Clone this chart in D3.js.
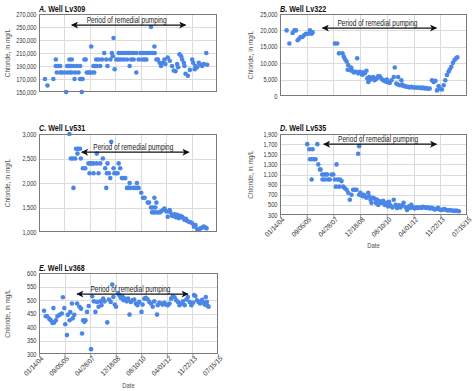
<!DOCTYPE html>
<html>
<head>
<meta charset="utf-8">
<script src="https://cdn.jsdelivr.net/npm/d3@7"></script>
<style>
  html, body { margin: 0; padding: 0; background: #fff; }
  svg { display: block; }
  text { font-family: "Liberation Sans Narrow", "Arial Narrow", "Liberation Sans", Arial, sans-serif; }
</style>
</head>
<body>
<svg id="chart" width="474" height="391"></svg>
<script>
// ---------------- DATA ----------------
const xTickLabels = ["01/14/04","09/05/05","04/28/07","12/18/08","08/10/10","04/01/12","11/22/13","07/15/15"];
const annotationText = "Period of remedial pumping";
const yLabel = "Chloride, in mg/L";
const xLabel = "Date";

// [decimal year, chloride mg/L]
const lv309 = [
[2004.42,170000],[2004.58,160000],[2004.96,170000],[2005.12,200000],[2005.12,190000],[2005.18,180000],[2005.25,190000],
[2005.40,190000],[2005.40,180000],[2005.50,180000],[2005.68,180000],[2005.79,150000],[2005.85,190000],[2005.87,180000],
[2005.94,190000],[2006.00,200000],[2006.04,190000],[2006.04,180000],[2006.10,190000],[2006.15,200000],[2006.15,180000],
[2006.26,190000],[2006.33,170000],[2006.37,180000],[2006.48,190000],[2006.59,180000],[2006.69,170000],[2006.69,190000],
[2006.75,170000],[2006.80,150000],[2006.85,170000],[2006.97,200000],[2007.05,200000],[2007.12,180000],[2007.23,180000],
[2007.30,180000],[2007.41,220000],[2007.45,180000],[2007.55,190000],[2007.60,180000],[2007.66,190000],[2007.73,200000],
[2007.77,190000],[2007.88,200000],[2007.99,190000],[2008.10,200000],[2008.25,210000],[2008.38,200000],[2008.46,190000],
[2008.64,200000],[2008.74,210000],[2008.80,205000],[2008.85,233000],[2008.92,185000],[2009.03,200000],[2009.18,210000],
[2009.18,200000],[2009.33,210000],[2009.33,200000],[2009.50,210000],[2009.50,200000],[2009.67,210000],[2009.72,200000],
[2009.82,210000],[2009.89,190000],[2009.99,210000],[2009.99,200000],[2010.15,210000],[2010.15,200000],[2010.32,210000],
[2010.32,180000],[2010.47,200000],[2010.58,210000],[2010.69,200000],[2010.75,210000],[2010.84,200000],[2010.90,210000],
[2010.97,200000],[2011.06,210000],[2011.19,210000],[2011.27,250000],[2011.36,210000],[2011.49,220000],[2011.51,210000],
[2011.62,200000],[2011.72,200000],[2011.83,195000],[2011.92,190000],[2012.05,195000],[2012.14,200000],[2012.20,193000],
[2012.35,203000],[2012.48,198000],[2012.63,190000],[2012.74,183000],[2012.85,182000],[2012.96,193000],[2013.02,188000],
[2013.11,208000],[2013.22,205000],[2013.28,200000],[2013.39,195000],[2013.43,190000],[2013.50,178000],[2013.65,175000],
[2013.78,184000],[2013.93,200000],[2013.99,195000],[2014.10,185000],[2014.14,190000],[2014.25,188000],[2014.36,195000],
[2014.47,192000],[2014.58,190000],[2014.68,193000],[2014.84,210000],[2014.90,192000]
];
const lv322 = [
[2004.44,20000],[2004.61,16000],[2004.81,19200],[2004.92,20000],[2005.02,20000],[2005.12,17000],[2005.22,17500],
[2005.30,18000],[2005.41,18000],[2005.51,18500],[2005.63,19000],[2005.77,19000],[2005.88,20000],[2005.98,19000],
[2006.04,19400],[2007.41,16000],[2007.55,16000],[2007.66,13000],[2007.88,13000],[2007.96,12000],[2008.04,11200],
[2008.13,10500],[2008.20,8000],[2008.23,9400],[2008.33,7900],[2008.41,8700],[2008.45,7800],[2008.49,7600],[2008.58,7200],
[2008.70,7400],[2008.78,11500],[2008.84,6900],[2008.94,7400],[2009.05,6700],[2009.10,6500],[2009.15,7200],[2009.25,6900],
[2009.35,7700],[2009.40,5400],[2009.46,4300],[2009.52,5800],[2009.60,5000],[2009.66,5300],[2009.76,5800],[2009.86,4800],
[2009.97,5300],[2010.00,5500],[2010.07,6000],[2010.17,6000],[2010.27,5300],[2010.38,4800],[2010.48,4600],[2010.58,4300],
[2010.60,5000],[2010.68,4300],[2010.78,4000],[2010.89,4800],[2011.03,5800],[2011.09,8700],[2011.19,3800],[2011.25,3600],
[2011.30,5800],[2011.40,3300],[2011.50,4800],[2011.55,3500],[2011.60,3100],[2011.70,3000],[2011.81,2800],[2011.91,2800],
[2012.01,2600],[2012.11,2800],[2012.22,2600],[2012.32,2600],[2012.42,2600],[2012.52,2500],[2012.62,2600],[2012.73,2400],
[2012.83,2600],[2012.93,2300],[2013.03,2400],[2013.14,2200],[2013.24,2300],[2013.38,4800],[2013.48,4300],[2013.59,4600],
[2013.69,1700],[2013.79,3000],[2013.89,2200],[2013.99,2000],[2014.10,3300],[2014.20,4800],[2014.30,6400],[2014.40,7400],
[2014.47,8100],[2014.57,8900],[2014.67,10100],[2014.77,11000],[2014.87,11500],[2014.94,11800]
];
const lv531 = [
[2006.00,3000],[2006.09,2500],[2006.22,2500],[2006.26,1900],[2006.37,2500],[2006.43,2700],[2006.52,2600],[2006.55,2700],
[2006.69,2700],[2006.74,2500],[2006.87,2300],[2007.02,2300],[2007.23,2400],[2007.30,2200],[2007.34,2400],[2007.45,2400],
[2007.56,2400],[2007.56,2200],[2007.77,2400],[2007.77,2600],[2007.88,2200],[2007.99,2400],[2008.16,2500],[2008.31,2300],
[2008.38,1900],[2008.46,2400],[2008.42,2200],[2008.55,2200],[2008.64,2100],[2008.70,2840],[2008.85,2300],[2008.90,2200],
[2009.03,2200],[2009.11,2200],[2009.18,2400],[2009.28,2300],[2009.39,2100],[2009.50,2100],[2009.61,2100],[2009.72,1900],
[2009.82,1900],[2009.89,2000],[2009.93,1900],[2010.15,1900],[2010.26,1900],[2010.36,2000],[2010.41,1900],[2010.47,1900],
[2010.64,1800],[2010.75,1700],[2010.86,1700],[2011.06,1600],[2011.14,1600],[2011.27,1500],[2011.34,1400],[2011.40,1500],
[2011.49,1700],[2011.49,1400],[2011.55,1500],[2011.62,1600],[2011.66,1400],[2011.83,1400],[2011.92,1420],[2012.05,1450],
[2012.14,1480],[2012.27,1420],[2012.35,1310],[2012.48,1450],[2012.52,1400],[2012.63,1330],[2012.70,1330],[2012.78,1360],
[2012.87,1300],[2012.96,1350],[2013.06,1280],[2013.17,1330],[2013.28,1310],[2013.35,1280],[2013.43,1250],[2013.52,1270],
[2013.60,1230],[2013.71,1210],[2013.82,1200],[2013.93,1180],[2014.04,1110],[2014.14,1140],[2014.25,1060],[2014.36,1040],
[2014.47,1075],[2014.58,1090],[2014.68,1110],[2014.79,1090],[2014.86,1075]
];
const lv535 = [
[2005.71,1700],[2005.84,1600],[2005.88,1400],[2005.98,1000],[2006.00,1400],[2006.04,1600],[2006.14,1400],[2006.22,1400],
[2006.33,1700],[2006.39,1300],[2006.49,1200],[2006.53,1200],[2006.63,1100],[2006.65,1000],[2006.74,1100],[2006.80,1000],
[2006.86,1100],[2006.94,1100],[2007.00,1000],[2007.10,1000],[2007.21,1100],[2007.31,1100],[2007.41,1000],[2007.47,860],
[2007.51,1300],[2007.57,1000],[2007.68,860],[2007.72,1000],[2007.82,970],[2007.92,860],[2008.02,830],[2008.13,800],
[2008.23,740],[2008.33,600],[2008.43,700],[2008.53,800],[2008.64,800],[2008.74,800],[2008.84,1510],[2008.90,1660],
[2008.90,700],[2008.98,740],[2009.11,670],[2009.19,700],[2009.25,670],[2009.35,640],[2009.46,740],[2009.52,670],
[2009.60,600],[2009.66,540],[2009.76,640],[2009.86,620],[2009.93,540],[2010.01,600],[2010.07,500],[2010.17,570],
[2010.27,540],[2010.38,580],[2010.48,500],[2010.58,540],[2010.68,470],[2010.74,560],[2010.83,490],[2010.95,450],
[2011.03,600],[2011.15,500],[2011.23,440],[2011.36,490],[2011.44,450],[2011.56,490],[2011.64,540],[2011.77,450],
[2011.85,400],[2011.97,470],[2012.05,440],[2012.11,500],[2012.22,450],[2012.32,430],[2012.42,450],[2012.52,440],
[2012.62,450],[2012.73,440],[2012.83,460],[2012.93,450],[2013.03,440],[2013.14,450],[2013.24,430],[2013.34,440],
[2013.44,430],[2013.55,410],[2013.65,420],[2013.75,440],[2013.85,410],[2013.95,400],[2014.05,410],[2014.15,420],
[2014.25,400],[2014.36,390],[2014.46,400],[2014.56,390],[2014.66,390],[2014.76,380],[2014.86,390],[2014.95,380],[2015.04,375]
];
const lv368 = [
[2004.36,460],[2004.47,440],[2004.55,440],[2004.70,430],[2004.79,425],[2004.90,415],[2004.96,470],[2005.01,417],
[2005.12,425],[2005.22,440],[2005.35,445],[2005.50,450],[2005.57,510],[2005.66,470],[2005.72,410],[2005.83,370],
[2005.89,445],[2006.00,425],[2006.04,455],[2006.15,487],[2006.20,432],[2006.30,445],[2006.48,487],[2006.63,475],
[2006.74,468],[2006.80,376],[2006.87,425],[2006.95,419],[2007.02,425],[2007.12,456],[2007.23,478],[2007.38,318],
[2007.45,514],[2007.56,495],[2007.66,456],[2007.77,493],[2007.86,475],[2007.99,495],[2008.05,481],[2008.16,505],
[2008.25,495],[2008.42,417],[2008.53,502],[2008.64,493],[2008.74,557],[2008.81,511],[2008.90,483],[2008.98,475],
[2009.11,526],[2009.20,518],[2009.28,508],[2009.39,514],[2009.46,499],[2009.54,505],[2009.67,495],[2009.76,505],
[2009.85,446],[2009.93,493],[2010.04,499],[2010.15,502],[2010.26,487],[2010.36,481],[2010.47,493],[2010.62,456],
[2010.69,483],[2010.80,505],[2010.90,508],[2011.01,503],[2011.12,493],[2011.23,487],[2011.34,475],[2011.44,495],
[2011.62,446],[2011.66,481],[2011.77,490],[2011.88,487],[2011.98,483],[2012.09,490],[2012.20,483],[2012.31,481],
[2012.42,487],[2012.52,505],[2012.63,514],[2012.74,510],[2012.85,499],[2012.96,493],[2013.06,481],[2013.17,487],
[2013.28,495],[2013.39,481],[2013.50,502],[2013.60,511],[2013.71,493],[2013.82,481],[2013.93,490],[2014.00,518],
[2014.08,515],[2014.18,499],[2014.28,493],[2014.38,487],[2014.45,495],[2014.52,501],[2014.60,490],[2014.68,483],
[2014.75,511],[2014.82,493],[2014.88,478],[2014.93,475]
];

const lv309Ticks = [150000,170000,190000,210000,230000,250000,270000];
const lv322Ticks = [0,5000,10000,15000,20000,25000];
const lv531Ticks = [1000,1500,2000,2500,3000];
const lv535Ticks = [300,500,700,900,1100,1300,1500,1700,1900];
const lv368Ticks = [300,350,400,450,500,550,600];

// pumping arrow: [start year, end year, y value]
const lv309Arrow = [2006.15, 2013.50, 253000];
const lv322Arrow = [2006.65, 2013.65, 20700];
const lv531Arrow = [2006.80, 2013.71, 2630];
const lv535Arrow = [2006.73, 2013.65, 1700];
const lv368Arrow = [2006.48, 2013.60, 522];

// ---------------- DRAWING ----------------
const parseTick = d3.utcParse("%m/%d/%y");
const xTickDates = xTickLabels.map(parseTick);
function yearToDate(y) {
  const Y = Math.floor(y), s = Date.UTC(Y, 0, 1), e = Date.UTC(Y + 1, 0, 1);
  return new Date(s + (y - Y) * (e - s));
}
const SX = 0.8; // horizontal condensing to mimic a narrow typeface

const svg = d3.select("#chart");
const defs = svg.append("defs");
defs.append("marker").attr("id","ah").attr("viewBox","0 0 10 10").attr("refX",9).attr("refY",5)
  .attr("markerWidth",8.5).attr("markerHeight",7).attr("markerUnits","userSpaceOnUse").attr("orient","auto-start-reverse")
  .append("path").attr("d","M0,0 L10,5 L0,10 L2.5,5 Z").attr("fill","#111");

const panels = [
  {letter:"A.", name:" Well Lv309", data:lv309, ticks:lv309Ticks, arrow:lv309Arrow, box:[39,14,217,92], titleY:11.5, ylx:7, dateAxis:false},
  {letter:"B.", name:" Well Lv322", data:lv322, ticks:lv322Ticks, arrow:lv322Arrow, box:[280,14,467,96], titleY:11.5, ylx:250, dateAxis:false},
  {letter:"C.", name:" Well Lv531", data:lv531, ticks:lv531Ticks, arrow:lv531Arrow, box:[39,134,217,232], titleY:131, ylx:7, dateAxis:false},
  {letter:"D.", name:" Well Lv535", data:lv535, ticks:lv535Ticks, arrow:lv535Arrow, box:[280,134,467,215], titleY:131, ylx:250, dateAxis:true, dateY:248},
  {letter:"E.", name:" Well Lv368", data:lv368, ticks:lv368Ticks, arrow:lv368Arrow, box:[39,273,218,354], titleY:270.5, ylx:7, dateAxis:true, dateY:387.5}
];

panels.forEach(p => {
  const [x0,y0,x1,y1] = p.box;
  const x = d3.scaleUtc().domain([xTickDates[0], xTickDates[xTickDates.length-1]]).range([x0,x1]);
  const y = d3.scaleLinear().domain(d3.extent(p.ticks)).range([y1,y0]);
  const g = svg.append("g");

  g.append("rect").attr("x",x0).attr("y",y0).attr("width",x1-x0).attr("height",y1-y0).attr("fill","#fff");

  // grid
  g.selectAll(".hg").data(p.ticks.slice(1,-1)).join("line")
    .attr("x1",x0).attr("x2",x1).attr("y1",d=>Math.round(y(d))+0.5).attr("y2",d=>Math.round(y(d))+0.5)
    .attr("stroke","#dcdcdc").attr("stroke-width",1);
  g.selectAll(".vg").data(xTickDates.slice(1,-1)).join("line")
    .attr("y1",y0).attr("y2",y1).attr("x1",d=>Math.round(x(d))+0.5).attr("x2",d=>Math.round(x(d))+0.5)
    .attr("stroke","#dcdcdc").attr("stroke-width",1);

  // y axis
  const ya = g.append("g").attr("transform",`translate(${x0},0)`)
    .call(d3.axisLeft(y).tickValues(p.ticks).tickSize(0).tickPadding(3).tickFormat(d3.format(",")));
  ya.select(".domain").remove();
  ya.selectAll("text").attr("font-size",6.5).attr("fill","#333").attr("font-family",null)
    .attr("transform",`scale(${SX*1.08},1)`);

  // y label
  g.append("text").attr("transform",`translate(${p.ylx},${(y0+y1)/2}) rotate(-90) scale(${SX},1)`)
    .attr("text-anchor","middle").attr("dy","0.35em").attr("font-size",8).attr("fill","#555").text(yLabel);

  // x axis with dates
  if (p.dateAxis) {
    const xa = g.append("g").attr("transform",`translate(0,${y1})`)
      .call(d3.axisBottom(x).tickValues(xTickDates).tickSize(3).tickFormat((d,i)=>xTickLabels[i]));
    xa.select(".domain").remove();
    xa.selectAll("line").attr("stroke","#999");
    xa.selectAll("text").attr("font-size",7).attr("fill","#333").attr("font-family",null)
      .attr("text-anchor","end").attr("x",0).attr("y",0).attr("dy",0)
      .attr("transform","translate(4.5,5) rotate(-45) scale(0.9,1)");
    g.append("text").attr("transform",`translate(${(x0+x1)/2},${p.dateY}) scale(${SX},1)`)
      .attr("text-anchor","middle").attr("font-size",7.5).attr("fill","#555").text(xLabel);
  }

  // points
  g.selectAll("circle").data(p.data).join("circle")
    .attr("cx",d=>x(yearToDate(d[0]))).attr("cy",d=>y(d[1])).attr("r",2.3).attr("fill","#4a86e8");

  // frame
  g.append("rect").attr("x",x0+0.5).attr("y",y0+0.5).attr("width",x1-x0-1).attr("height",y1-y0-1)
    .attr("fill","none").attr("stroke","#7a7a7a").attr("stroke-width",1);

  // arrow annotation
  const ax0 = x(yearToDate(p.arrow[0])), ax1 = x(yearToDate(p.arrow[1])), ay = y(p.arrow[2]);
  g.append("line").attr("x1",ax0).attr("x2",ax1).attr("y1",ay).attr("y2",ay)
    .attr("stroke","#111").attr("stroke-width",1.3)
    .attr("marker-start","url(#ah)").attr("marker-end","url(#ah)");
  g.append("text").attr("transform",`translate(${(ax0+ax1)/2 - 2},${ay-2.5}) scale(${SX},1)`)
    .attr("text-anchor","middle").attr("font-size",8.2).attr("fill","#222").text(annotationText);

  // title
  const t = g.append("text").attr("transform",`translate(${x0},${p.titleY}) scale(0.78,1)`)
    .attr("font-size",9.2).attr("font-weight","bold").attr("fill","#111");
  t.append("tspan").attr("font-style","italic").text(p.letter);
  t.append("tspan").text(p.name);
});
</script>
</body>
</html>
